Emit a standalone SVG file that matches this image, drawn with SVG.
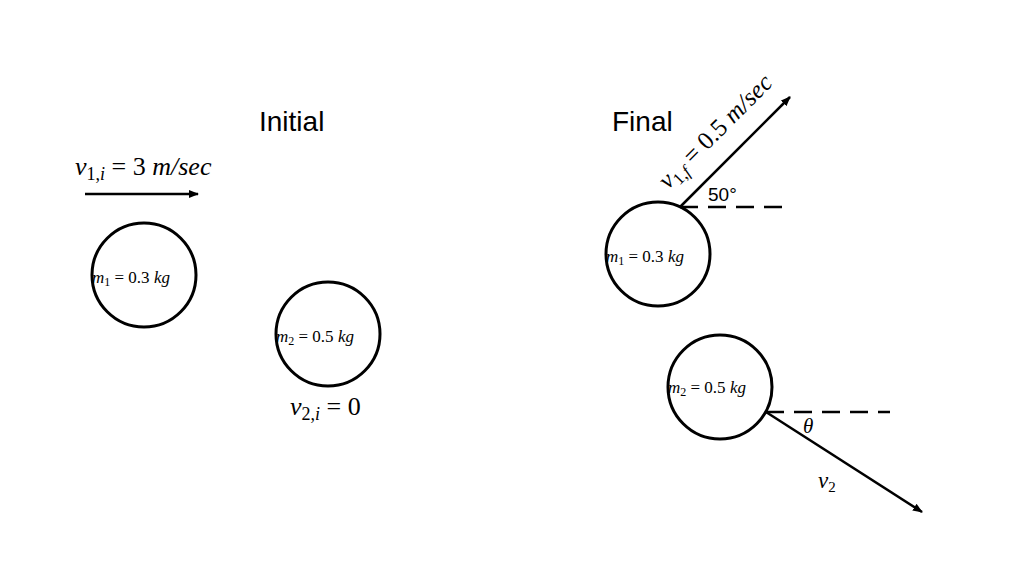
<svg xmlns="http://www.w3.org/2000/svg" width="1024" height="575" viewBox="0 0 1024 575">
<defs>
<style>
.c{fill:none;stroke:#000;stroke-width:3}
.l{stroke:#000;stroke-width:2.5;fill:none}
.d{stroke:#000;stroke-width:2.5;stroke-dasharray:18,10;fill:none}
.m{font-family:"Liberation Serif",serif;font-style:italic;fill:#000}
.u{font-style:normal}
.t{font-family:"Liberation Sans",sans-serif;font-size:28px;fill:#000}
</style>
<marker id="a" markerWidth="10" markerHeight="8" refX="9" refY="4" orient="auto" markerUnits="userSpaceOnUse"><path d="M0,0L10,4L0,8z" fill="#000"/></marker>
</defs>
<rect width="1024" height="575" fill="#fff"/>
<text class="t" x="259" y="131">Initial</text>
<text class="t" x="612" y="131">Final</text>
<g id="m1i"><circle class="c" cx="144" cy="275" r="52"/><text class="m" x="92" y="283" font-size="17">m<tspan font-size="12" dy="3" class="u">1</tspan><tspan dy="-3" class="u"> = 0.3 </tspan>kg</text></g>
<g id="m2i"><circle class="c" cx="328" cy="334" r="52"/><text class="m" x="276" y="342" font-size="17">m<tspan font-size="12" dy="3" class="u">2</tspan><tspan dy="-3" class="u"> = 0.5 </tspan>kg</text></g>
<g id="m1f"><circle class="c" cx="658" cy="254" r="52"/><text class="m" x="606" y="262" font-size="17">m<tspan font-size="12" dy="3" class="u">1</tspan><tspan dy="-3" class="u"> = 0.3 </tspan>kg</text></g>
<g id="m2f"><circle class="c" cx="720" cy="387" r="52"/><text class="m" x="668" y="393" font-size="17">m<tspan font-size="12" dy="3" class="u">2</tspan><tspan dy="-3" class="u"> = 0.5 </tspan>kg</text></g>
<g id="connectors">
<line class="l" x1="85" y1="194" x2="198" y2="194" marker-end="url(#a)"/>
<line class="l" x1="680" y1="207" x2="790" y2="97" marker-end="url(#a)"/>
<line class="d" x1="680" y1="207" x2="790" y2="207"/>
<line class="d" x1="766" y1="412" x2="890" y2="412"/>
<line class="l" x1="766" y1="412" x2="922" y2="512" marker-end="url(#a)"/>
</g>
<text class="m" x="75" y="175" font-size="26">v<tspan font-size="18" dy="5" class="u">1,</tspan><tspan font-size="18">i</tspan><tspan dy="-5" class="u"> = 3 </tspan>m/sec</text>
<text class="m" x="290" y="415" font-size="26">v<tspan font-size="18" dy="5" class="u">2,</tspan><tspan font-size="18">i</tspan><tspan dy="-5" class="u"> = 0</tspan></text>
<text class="m" transform="translate(668,190) rotate(-45)" font-size="25">v<tspan font-size="17" dy="5" class="u">1,</tspan><tspan font-size="17">f</tspan><tspan dy="-5" class="u"> = 0.5 </tspan>m/sec</text>
<text x="708" y="201" font-family="Liberation Sans,sans-serif" font-size="19">50°</text>
<text class="m" x="803" y="433" font-size="21">θ</text>
<text class="m" x="818" y="488" font-size="23">v<tspan font-size="15" dy="4" class="u">2</tspan></text>
</svg>
